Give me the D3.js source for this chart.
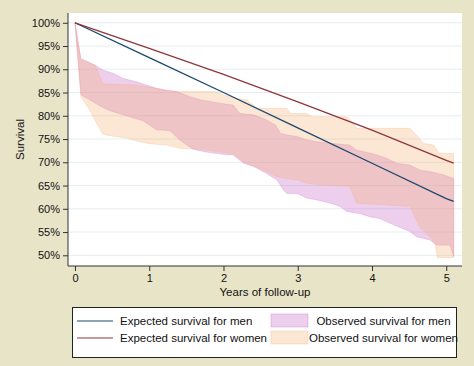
<!DOCTYPE html>
<html>
<head>
<meta charset="utf-8">
<title>Expected vs observed survival</title>
<script src="https://cdn.jsdelivr.net/npm/d3@7"></script>
<style>
    body { margin: 0; background: #e8e4c8; }
    text { font-family: "Liberation Sans", Arial, sans-serif; fill: #111; }
    .grid line { stroke: #e6eef0; stroke-width: 1px; }
    .axis path, .axis line { stroke: #333; }
    .axis text { font-size: 11px; }
    .title { font-size: 11.5px; }
    .legendText { font-size: 11.5px; }
</style>
</head>
<body>
<script>
    // year ticks and survival ticks
    const xTicks = [0, 1, 2, 3, 4, 5];
    const yTicks = [50, 55, 60, 65, 70, 75, 80, 85, 90, 95, 100];

    // expected survival lines [year, %]
    const menExpected = [[0, 100], [1, 92.5], [2, 85.0], [3, 77.4], [4, 69.8], [5, 62.2], [5.1, 61.6]];
    const womenExpected = [[0, 100], [1, 94.5], [2, 88.9], [3, 83.0], [4, 76.9], [5, 70.4], [5.1, 69.8]];

    // observed survival confidence band, men
    const menUpper = [[0, 100], [0.08, 92.3], [0.27, 90.9], [0.38, 89.8], [0.52, 89.1], [0.65, 88.0], [0.83, 87.3],
        [0.96, 86.6], [1.10, 85.9], [1.23, 85.5], [1.37, 85.2], [1.55, 84.1], [1.70, 83.4], [1.95, 82.7], [2.13, 82.3],
        [2.22, 80.5], [2.41, 80.2], [2.58, 79.1], [2.70, 78.0], [2.77, 76.2], [2.85, 75.9], [3.0, 75.5], [3.12, 74.8],
        [3.26, 74.4], [3.43, 74.1], [3.70, 73.7], [3.79, 72.6], [4.0, 71.9], [4.2, 70.8], [4.33, 69.8], [4.51, 69.4],
        [4.65, 68.3], [4.78, 68.0], [4.96, 67.3], [5.1, 66.5]];
    const menLower = [[0, 100], [0.08, 84.5], [0.34, 82.1], [0.47, 81.1], [0.69, 80.0], [0.92, 78.9], [1.10, 77.0],
        [1.28, 76.8], [1.41, 74.8], [1.59, 72.8], [1.77, 72.2], [2.04, 71.6], [2.13, 71.6], [2.27, 69.8], [2.41, 69.1],
        [2.58, 67.6], [2.72, 66.2], [2.81, 64.0], [2.85, 63.3], [2.99, 63.3], [3.12, 62.3], [3.26, 61.9], [3.44, 61.2],
        [3.57, 60.5], [3.66, 59.4], [3.83, 59.0], [3.97, 58.3], [4.1, 57.9], [4.2, 57.2], [4.33, 56.3], [4.51, 55.1],
        [4.6, 54.0], [4.78, 53.3], [4.87, 52.2], [5.05, 52.2], [5.1, 49.7]];

    // observed survival confidence band, women
    const womenUpper = [[0, 100], [0.08, 92.0], [0.27, 90.9], [0.38, 86.9], [0.83, 86.6], [1.10, 85.9], [1.30, 85.3],
        [1.90, 85.2], [2.0, 84.5], [2.18, 83.7], [2.32, 83.4], [2.45, 81.6], [2.85, 81.6], [2.9, 80.5], [3.12, 80.5],
        [3.2, 79.8], [3.66, 79.8], [3.75, 78.4], [3.79, 77.3], [4.51, 77.3], [4.62, 75.5], [4.69, 74.1], [4.83, 73.7],
        [4.9, 72.0], [5.1, 71.9]];
    const womenLower = [[0, 100], [0.08, 84.0], [0.2, 81.2], [0.29, 78.4], [0.38, 76.0], [0.47, 75.7], [0.69, 75.2],
        [0.87, 74.4], [1.0, 74.0], [1.23, 73.7], [1.41, 73.0], [1.68, 72.8], [1.95, 72.2], [2.13, 71.8], [2.27, 70.1],
        [2.41, 69.1], [2.58, 68.0], [2.72, 66.9], [2.85, 66.5], [2.99, 66.2], [3.12, 65.5], [3.3, 65.1], [3.70, 64.8],
        [3.79, 61.2], [4.51, 60.5], [4.65, 55.8], [4.78, 54.0], [4.85, 52.5], [4.88, 49.5], [5.1, 49.5]];

    const legendLines = ["Expected survival for men", "Expected survival for women"];
    const legendAreas = ["Observed survival for men", "Observed survival for women"];

    const navy = "#1a476f", maroon = "#90353b";
    const menFill = "rgba(195,95,195,0.3)", womenFill = "rgba(245,172,112,0.3)";

    const W = 474, H = 366;
    const plot = {left: 68, right: 462, top: 13, bottom: 266};

    const svg = d3.select("body").append("svg").attr("width", W).attr("height", H);

    const x = d3.scaleLinear().domain([-0.094, 5.212]).range([plot.left, plot.right]);
    const y = d3.scaleLinear().domain([47.7, 102.1]).range([plot.bottom, plot.top]);

    svg.append("rect")
        .attr("x", plot.left).attr("y", plot.top)
        .attr("width", plot.right - plot.left).attr("height", plot.bottom - plot.top)
        .attr("fill", "white");

    svg.append("g").attr("class", "grid")
        .selectAll("line").data(yTicks).enter().append("line")
        .attr("x1", plot.left).attr("x2", plot.right)
        .attr("y1", d => y(d)).attr("y2", d => y(d));

    // bands: build polygon from upper edge and reversed lower edge
    function band(upper, lower) {
        const pts = upper.concat(lower.slice().reverse());
        return d3.line().x(d => x(d[0])).y(d => y(d[1]))(pts) + "Z";
    }

    svg.append("path").attr("d", band(menUpper, menLower))
        .attr("fill", menFill).attr("stroke", menFill).attr("stroke-width", 0.8);
    svg.append("path").attr("d", band(womenUpper, womenLower))
        .attr("fill", womenFill).attr("stroke", womenFill).attr("stroke-width", 0.8);

    const line = d3.line().x(d => x(d[0])).y(d => y(d[1]));
    svg.append("path").attr("d", line(menExpected))
        .attr("fill", "none").attr("stroke", navy).attr("stroke-width", 1.3);
    svg.append("path").attr("d", line(womenExpected))
        .attr("fill", "none").attr("stroke", maroon).attr("stroke-width", 1.3);

    const yAxis = svg.append("g").attr("class", "axis")
        .attr("transform", "translate(" + plot.left + ",0)")
        .call(d3.axisLeft(y).tickValues(yTicks).tickSize(5).tickPadding(3).tickFormat(d => d + "%"));
    yAxis.select(".domain").attr("d", "M0," + plot.top + "V" + plot.bottom);

    const xAxis = svg.append("g").attr("class", "axis")
        .attr("transform", "translate(0," + plot.bottom + ")")
        .call(d3.axisBottom(x).tickValues(xTicks).tickSize(5).tickPadding(3).tickFormat(d3.format("d")));
    xAxis.select(".domain").attr("d", "M" + plot.left + ",0H" + plot.right);

    svg.append("text").attr("class", "title")
        .attr("x", (plot.left + plot.right) / 2).attr("y", 296)
        .attr("text-anchor", "middle").text("Years of follow-up");

    svg.append("text").attr("class", "title")
        .attr("transform", "translate(24," + (plot.top + plot.bottom) / 2 + ") rotate(-90)")
        .attr("text-anchor", "middle").text("Survival");

    // legend
    const legend = svg.append("g");
    legend.append("rect")
        .attr("x", 72.5).attr("y", 307.5).attr("width", 384).attr("height", 50)
        .attr("fill", "white").attr("stroke", "#222").attr("stroke-width", 1);

    const rowY = [321, 338];
    legend.selectAll(".ll").data(legendLines).enter().append("line")
        .attr("x1", 77).attr("x2", 113)
        .attr("y1", (d, i) => rowY[i]).attr("y2", (d, i) => rowY[i])
        .attr("stroke", (d, i) => i ? maroon : navy).attr("stroke-width", 1.2);
    legend.selectAll(".lt").data(legendLines).enter().append("text")
        .attr("class", "legendText")
        .attr("x", 120).attr("y", (d, i) => rowY[i] + 4)
        .text(d => d);

    legend.selectAll(".ar").data(legendAreas).enter().append("rect")
        .attr("x", 271).attr("y", (d, i) => rowY[i] - 7)
        .attr("width", 37).attr("height", 13)
        .attr("fill", (d, i) => i ? womenFill : menFill)
        .attr("stroke", (d, i) => i ? womenFill : menFill);
    legend.selectAll(".at").data(legendAreas).enter().append("text")
        .attr("class", "legendText")
        .attr("x", 383.5).attr("y", (d, i) => rowY[i] + 4)
        .attr("text-anchor", "middle")
        .text(d => d);
</script>
</body>
</html>
